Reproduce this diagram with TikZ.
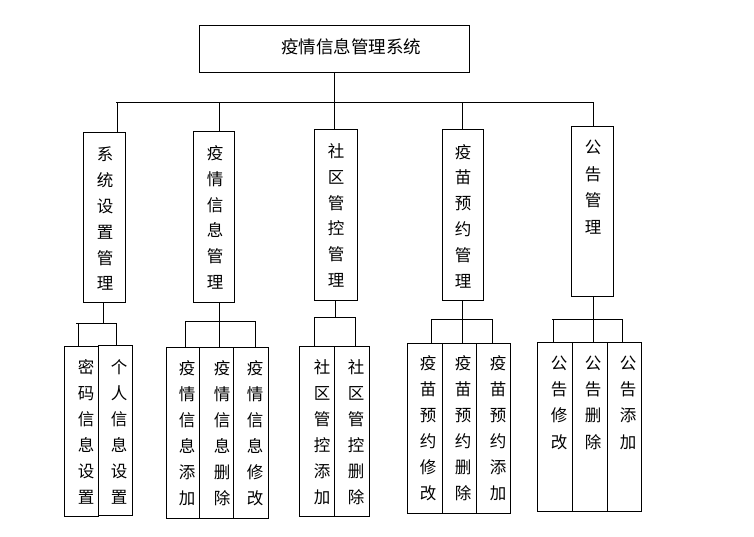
\documentclass[tikz,border=0pt]{standalone}
\usepackage{fontspec}
\setmainfont{Noto Sans CJK SC}
\begin{document}
\begin{tikzpicture}[x=1pt,y=-1pt,
  box/.style={draw, line width=1pt, inner sep=0pt, outer sep=0pt},
  vt/.style={font=\fontsize{16.5}{25.8}\selectfont, align=center, inner sep=0pt},
  vs/.style={font=\fontsize{16.5}{26}\selectfont, align=center, inner sep=0pt},
  ln/.style={line width=1pt}]
\useasboundingbox (0,0) rectangle (754,536);
% top
\node[box, minimum width=270pt, minimum height=47pt] (top) at (334,48.5) {};
\node[font=\fontsize{17.5}{20}\selectfont, inner sep=0pt] (title) at (351,47) {疫情信息管理系统};
% level 2
\node[box, minimum width=42pt, minimum height=170pt] (b1) at (104,217) {};
\node[box, minimum width=41pt, minimum height=171pt] (b2) at (213.5,216.5) {};
\node[box, minimum width=43pt, minimum height=171pt] (b3) at (335.5,214.5) {};
\node[box, minimum width=41pt, minimum height=171pt] (b4) at (462.5,214.5) {};
\node[box, minimum width=42pt, minimum height=170pt] (b5) at (592,211) {};
\node[vt] (t1) at (105,219) {系\\统\\设\\置\\管\\理};
\node[vt] (t2) at (215,217.5) {疫\\情\\信\\息\\管\\理};
\node[vt] (t3) at (336,215.5) {社\\区\\管\\控\\管\\理};
\node[vt] (t4) at (463,216) {疫\\苗\\预\\约\\管\\理};
\node[vs, font=\fontsize{16.5}{26.7}\selectfont] (t5) at (593,187) {公\\告\\管\\理};
% group 1
\node[box, minimum width=34pt, minimum height=170pt] (c11) at (81,431) {};
\node[box, minimum width=34pt, minimum height=170pt] (c12) at (115,430) {};
\node[vs] at (86,432) {密\\码\\信\\息\\设\\置};
\node[vs] at (119,432) {个\\人\\信\\息\\设\\置};
% group 2
\node[box, minimum width=33pt, minimum height=171pt] (c21) at (182.5,432.5) {};
\node[box, minimum width=34pt, minimum height=171pt] (c22) at (216,432.5) {};
\node[box, minimum width=35pt, minimum height=171pt] (c23) at (250.5,432.5) {};
\node[vs] at (187,433.5) {疫\\情\\信\\息\\添\\加};
\node[vs] at (222,433.5) {疫\\情\\信\\息\\删\\除};
\node[vs] at (255,433.5) {疫\\情\\信\\息\\修\\改};
% group 3
\node[box, minimum width=35pt, minimum height=170pt] (c31) at (316.5,431) {};
\node[box, minimum width=35pt, minimum height=170pt] (c32) at (351.5,431) {};
\node[vs] at (322,432) {社\\区\\管\\控\\添\\加};
\node[vs] at (356,432) {社\\区\\管\\控\\删\\除};
% group 4
\node[box, minimum width=35pt, minimum height=170pt] (c41) at (424.5,428) {};
\node[box, minimum width=34pt, minimum height=170pt] (c42) at (459,428) {};
\node[box, minimum width=34pt, minimum height=170pt] (c43) at (493,428) {};
\node[vs] at (428,428) {疫\\苗\\预\\约\\修\\改};
\node[vs] at (463,428) {疫\\苗\\预\\约\\删\\除};
\node[vs] at (498,428) {疫\\苗\\预\\约\\添\\加};
% group 5
\node[box, minimum width=35pt, minimum height=169pt] (c51) at (554.5,426.5) {};
\node[box, minimum width=35pt, minimum height=169pt] (c52) at (589.5,426.5) {};
\node[box, minimum width=34pt, minimum height=169pt] (c53) at (624,426.5) {};
\node[vs, font=\fontsize{16.5}{26.3}\selectfont] at (559,402.5) {公\\告\\修\\改};
\node[vs, font=\fontsize{16.5}{26.3}\selectfont] at (593,402.5) {公\\告\\删\\除};
\node[vs, font=\fontsize{16.5}{26.3}\selectfont] at (628,402.5) {公\\告\\添\\加};
% top bus
\coordinate (busL) at (116,102);
\coordinate (busR) at (593,102);
\coordinate (j1) at (117,102);
\coordinate (j2) at (219,102);
\coordinate (j3) at (334,102);
\coordinate (j4) at (462,102);
\coordinate (j5) at (593,102);
\draw[ln] (top.south -| j3) -- (j3);
\draw[ln] (busL) -- (busR);
\draw[ln] (j1) -- (j1 |- b1.north);
\draw[ln] (j2) -- (j2 |- b2.north);
\draw[ln] (j3) -- (j3 |- b3.north);
\draw[ln] (j4) -- (j4 |- b4.north);
\draw[ln] (j5) -- (j5 |- b5.north);
% group 1 bus
\coordinate (g1) at (103,323);
\coordinate (g1L) at (76,323);
\coordinate (g1R) at (117,323);
\coordinate (g1a) at (78,323);
\coordinate (g1b) at (116,323);
\draw[ln] (g1 |- b1.south) -- (g1);
\draw[ln] (g1L) -- (g1R);
\draw[ln] (g1a) -- (g1a |- c11.north);
\draw[ln] (g1b) -- (g1b |- c12.north);
% group 2 bus
\coordinate (g2) at (219,321);
\coordinate (g2a) at (185,321);
\coordinate (g2c) at (255,321);
\draw[ln] (g2 |- b2.south) -- (g2);
\draw[ln] (g2a) -- (g2c);
\draw[ln] (g2a) -- (g2a |- c21.north);
\draw[ln] (g2) -- (g2 |- c22.north);
\draw[ln] (g2c) -- (g2c |- c23.north);
% group 3 bus
\coordinate (g3) at (335,317);
\coordinate (g3a) at (314,317);
\coordinate (g3b) at (355,317);
\draw[ln] (g3 |- b3.south) -- (g3);
\draw[ln] (g3a) -- (g3b);
\draw[ln] (g3a) -- (g3a |- c31.north);
\draw[ln] (g3b) -- (g3b |- c32.north);
% group 4 bus
\coordinate (g4) at (462,319);
\coordinate (g4a) at (431,319);
\coordinate (g4c) at (492,319);
\draw[ln] (g4 |- b4.south) -- (g4);
\draw[ln] (g4a) -- (g4c);
\draw[ln] (g4a) -- (g4a |- c41.north);
\draw[ln] (g4) -- (g4 |- c42.north);
\draw[ln] (g4c) -- (g4c |- c43.north);
% group 5 bus
\coordinate (g5) at (593,319);
\coordinate (g5L) at (552,319);
\coordinate (g5a) at (553,319);
\coordinate (g5c) at (622,319);
\draw[ln] (g5 |- b5.south) -- (g5);
\draw[ln] (g5L) -- (g5c);
\draw[ln] (g5a) -- (g5a |- c51.north);
\draw[ln] (g5) -- (g5 |- c52.north);
\draw[ln] (g5c) -- (g5c |- c53.north);
\end{tikzpicture}
\end{document}
